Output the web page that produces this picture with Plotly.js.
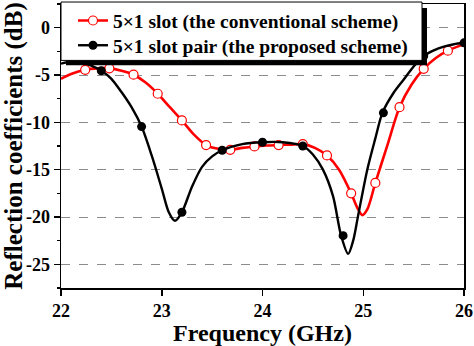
<!DOCTYPE html>
<html>
<head>
<meta charset="utf-8">
<script src="https://cdn.plot.ly/plotly-3.0.1.min.js"></script>
<style>html,body{margin:0;padding:0;background:#fff;}#chart{width:474px;height:346px;}</style>
</head>
<body>
<div id="chart"></div>
<script>
// Conventional scheme (red) — curve
const convCurveX = [22.0,22.1,22.24,22.36,22.48,22.6,22.72,22.84,22.96,23.08,23.2,23.32,23.44,23.56,23.68,23.8,23.92,24.04,24.16,24.28,24.4,24.52,24.64,24.76,24.88,24.94,24.99,25.04,25.12,25.24,25.36,25.48,25.6,25.72,25.84,26.0];
const convCurveY = [-5.4,-4.9,-4.45,-4.3,-4.3,-4.55,-4.97,-5.8,-6.98,-8.4,-9.8,-11.3,-12.4,-12.8,-12.9,-12.7,-12.55,-12.45,-12.4,-12.35,-12.3,-12.7,-13.5,-15.0,-17.5,-19.0,-19.8,-19.2,-16.4,-12.4,-8.4,-6.0,-4.35,-3.2,-2.43,-1.75];
// Conventional scheme markers
const convMarkX = [22.24,22.48,22.72,22.96,23.2,23.44,23.68,23.92,24.16,24.4,24.64,24.88,25.12,25.36,25.6,25.84];
const convMarkY = [-4.45,-4.3,-4.97,-6.98,-9.8,-12.4,-12.9,-12.55,-12.4,-12.3,-13.5,-17.5,-16.4,-8.4,-4.35,-2.43];

// Proposed scheme (black) — curve
const propCurveX = [22.0,22.1,22.2,22.3,22.4,22.5,22.6,22.7,22.8,22.9,23.0,23.07,23.13,23.2,23.3,23.4,23.5,23.6,23.8,24.0,24.2,24.4,24.5,24.6,24.7,24.78,24.85,24.9,24.95,25.04,25.12,25.19,25.3,25.4,25.5,25.6,25.7,25.8,25.9,26.0];
const propCurveY = [-3.8,-3.6,-3.7,-4.0,-4.55,-5.4,-6.8,-8.4,-10.45,-13.5,-17.0,-19.5,-20.4,-19.5,-16.8,-14.7,-13.6,-12.95,-12.3,-12.1,-12.1,-12.5,-13.4,-15.0,-17.8,-21.97,-23.9,-22.5,-19.8,-15.0,-11.7,-9.0,-6.9,-5.5,-4.1,-3.0,-2.4,-2.0,-1.75,-1.6];
// Proposed scheme markers
const propMarkX = [22.4,22.8,23.2,23.6,24.0,24.4,24.8,25.2,25.6,26.0];
const propMarkY = [-4.55,-10.45,-19.5,-12.95,-12.1,-12.5,-21.97,-9.0,-3.0,-1.6];

const seriesNames = ['5×1 slot (the conventional scheme)', '5×1 slot pair (the proposed scheme)'];
const yTicks = [-25,-20,-15,-10,-5,0];
const yTickText = ['-25','-20','-15','-10','-5','0'];
const xTicks = [22,23,24,25,26];

const RED = '#ff0000', BLACK = '#000000';
const FONT = 'Liberation Serif, Times New Roman, serif';

// pixel -> paper helpers for the legend frame (plot area: x 61..464, y 1..288)
const px = v => (v - 61) / 403;
const py = v => (288 - v) / 287;

const traces = [
  {x: convCurveX, y: convCurveY, mode: 'lines', line: {color: RED, width: 2.6, shape: 'spline', smoothing: 0.8}, showlegend: false, hoverinfo: 'skip'},
  {x: convMarkX, y: convMarkY, mode: 'markers', marker: {symbol: 'circle', size: 9, color: '#ffffff', line: {color: RED, width: 1.2}}, showlegend: false},
  {x: propCurveX, y: propCurveY, mode: 'lines', line: {color: BLACK, width: 2.4, shape: 'spline', smoothing: 0.8}, showlegend: false, hoverinfo: 'skip'},
  {x: propMarkX, y: propMarkY, mode: 'markers', marker: {symbol: 'circle', size: 9, color: BLACK}, showlegend: false},
  {x: [null], y: [null], mode: 'lines+markers', name: seriesNames[0], legend: 'legend', line: {color: RED, width: 2.6}, marker: {symbol: 'circle', size: 9, color: '#ffffff', line: {color: RED, width: 1.2}}},
  {x: [null], y: [null], mode: 'lines+markers', name: seriesNames[1], legend: 'legend2', line: {color: BLACK, width: 2.4}, marker: {symbol: 'circle', size: 9, color: BLACK}}
];

const legFont = {family: FONT, size: 19.5, weight: 'bold', color: '#000'};
const legCommon = {xanchor: 'left', yanchor: 'middle', bgcolor: 'rgba(0,0,0,0)', borderwidth: 0, font: legFont, itemwidth: 30};

const layout = {
  width: 474, height: 346,
  margin: {l: 61, r: 10, t: 1, b: 58},
  paper_bgcolor: '#ffffff', plot_bgcolor: '#ffffff',
  font: {family: FONT, color: '#000', size: 18, weight: 'bold'},
  showlegend: true,
  legend: Object.assign({x: px(73), y: py(18)}, legCommon),
  legend2: Object.assign({x: px(73), y: py(43)}, legCommon),
  shapes: [
    {type: 'rect', xref: 'paper', yref: 'paper', x0: px(66), x1: px(427), y0: py(63), y1: py(5), fillcolor: '#000', line: {width: 0}, layer: 'above'},
    {type: 'rect', xref: 'paper', yref: 'paper', x0: px(61), x1: px(422), y0: py(58), y1: py(-1), fillcolor: '#fff', line: {color: '#000', width: 1}, layer: 'above'}
  ],
  xaxis: {range: [22, 26], tickvals: xTicks, ticks: 'outside', ticklen: 6, tickwidth: 1.5, tickcolor: '#000',
          showline: true, linecolor: '#000', linewidth: 1.5, mirror: true, showgrid: false, zeroline: false,
          tickfont: {family: FONT, size: 18, weight: 'bold'},
          title: {text: 'Frequency (GHz)', font: {family: FONT, size: 24, weight: 'bold'}, standoff: 9}},
  yaxis: {range: [-27.5, 2.5], tickvals: yTicks, ticktext: yTickText, ticks: 'outside', ticklen: 6, tickwidth: 1.5, tickcolor: '#000',
          minor: {dtick: 2.5, tick0: 0, ticks: 'outside', ticklen: 3, tickcolor: '#000', showgrid: false},
          showline: true, linecolor: '#000', linewidth: 1.5, mirror: true,
          showgrid: true, gridcolor: '#8c8c8c', griddash: 'dash', gridwidth: 1, zeroline: false,
          tickfont: {family: FONT, size: 18, weight: 'bold'},
          title: {text: 'Reflection coefficients (dB)', font: {family: FONT, size: 25, weight: 'bold'}, standoff: 6}}
};

Plotly.newPlot('chart', traces, layout, {staticPlot: true, displayModeBar: false});
</script>
</body>
</html>
